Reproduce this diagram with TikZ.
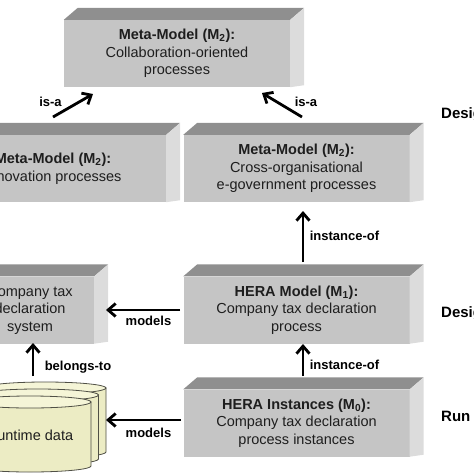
\documentclass[tikz,border=0pt]{standalone}
\usepackage{fontspec}
\setmainfont{Liberation Sans}
\usetikzlibrary{arrows.meta}
\definecolor{facefront}{RGB}{197,197,197}
\definecolor{facetop}{RGB}{143,143,143}
\definecolor{faceside}{RGB}{220,220,220}
\definecolor{dbbody}{RGB}{236,236,196}
\definecolor{dbtop}{RGB}{245,245,215}
\definecolor{dbline}{RGB}{80,80,70}
\definecolor{textgray}{RGB}{30,30,30}

\begin{document}
\begin{tikzpicture}[x=1pt, y=-1pt,
    blk/.style={fill=facefront, inner sep=0pt, minimum width=226pt, minimum height=67pt,
                align=center, text=textgray, font=\fontsize{14.5}{17.5}\selectfont},
    lbl/.style={anchor=base, inner sep=0pt, font=\fontsize{13}{15}\selectfont\bfseries},
    lvl/.style={anchor=base west, inner sep=0pt, font=\fontsize{15}{18}\selectfont\bfseries},
    arr/.style={-{Straight Barb[length=7.5pt,width=13pt]}, line width=2.8pt},
    topface/.style={fill=facetop},
    sideface/.style={fill=faceside}]
    \useasboundingbox (0,0) rectangle (474,474);
    \clip (0,0) rectangle (474,474);

    \node[blk] (cc) at (177, 53.5) {\textbf{Meta-Model (M\textsubscript{2}):}\\Collaboration-oriented\\processes};
    \node[blk] (ip) at (53, 168.5) {\textbf{Meta-Model (M\textsubscript{2}):}\\Innovation processes};
    \node[blk] (cg) at (296.5, 168.5) {\textbf{Meta-Model (M\textsubscript{2}):}\\Cross-organisational\\e-government processes};
    \node[blk, minimum width=128pt] (sys) at (30, 310) {Company tax\\declaration\\system};
    \node[blk] (hm) at (296.5, 310) {\textbf{HERA Model (M\textsubscript{1}):}\\Company tax declaration\\process};
    \node[blk] (hi) at (296.5, 423) {\textbf{HERA Instances (M\textsubscript{0}):}\\Company tax declaration\\process instances};

    \foreach \n in {cc, ip, cg, sys, hm, hi} {
        \fill[topface] (\n.north west) -- ++(14,-12) -- ([shift={(14,-12)}]\n.north east) -- (\n.north east) -- cycle;
        \fill[sideface] (\n.north east) -- ([shift={(14,-12)}]\n.north east) -- ([shift={(14,-2)}]\n.south east) -- (\n.south east) -- cycle;
    }

    % stacked data stores
    \foreach \cx/\yt in {45/388, 37.5/395, 30/402} {
        \filldraw[fill=dbbody, draw=dbline, line width=0.8pt] (\cx-61,\yt) -- (\cx-61,\yt+64)
            arc[start angle=180, end angle=0, x radius=61, y radius=6] -- (\cx+61,\yt) -- cycle;
        \filldraw[fill=dbtop, draw=dbline, line width=0.8pt] (\cx,\yt) ellipse[x radius=61, y radius=6];
    }
    \node[inner sep=0pt, anchor=base, text=textgray, font=\fontsize{14.5}{17.5}\selectfont] (db) at (30, 440) {Runtime data};

    \coordinate (isal0) at (53, 117);
    \coordinate (isal1) at (93, 94);
    \coordinate (isar0) at (302, 117);
    \coordinate (isar1) at (262, 93);
    \coordinate (instu0) at (303, 262);
    \coordinate (instu1) at (303, 211);
    \coordinate (instl0) at (303, 376);
    \coordinate (instl1) at (303, 344);
    \coordinate (bel0) at (33, 376);
    \coordinate (bel1) at (33, 343);
    \coordinate (modu0) at (180, 310);
    \coordinate (modu1) at (106, 310);
    \coordinate (modl0) at (181, 420);
    \coordinate (modl1) at (106, 420);

    \draw[arr] (isal0) -- (isal1);
    \draw[arr] (isar0) -- (isar1);
    \draw[arr] (instu0) -- (instu1);
    \draw[arr] (instl0) -- (instl1);
    \draw[arr] (bel0) -- (bel1);
    \draw[arr] (modu0) -- (modu1);
    \draw[arr] (modl0) -- (modl1);

    \node[lbl] (l1) at (50.5, 106) {is-a};
    \node[lbl] (l2) at (306, 106.5) {is-a};
    \node[lbl] (l3) at (344.5, 240) {instance-of};
    \node[lbl] (l4) at (344.5, 369) {instance-of};
    \node[lbl] (l5) at (78, 370) {belongs-to};
    \node[lbl] (l6) at (148.5, 325) {models};
    \node[lbl] (l7) at (148.5, 437) {models};

    \node[lvl] (d1) at (441, 118) {Design};
    \node[lvl] (d2) at (441, 317) {Design};
    \node[lvl] (r1) at (441, 421) {Run};
\end{tikzpicture}
\end{document}
